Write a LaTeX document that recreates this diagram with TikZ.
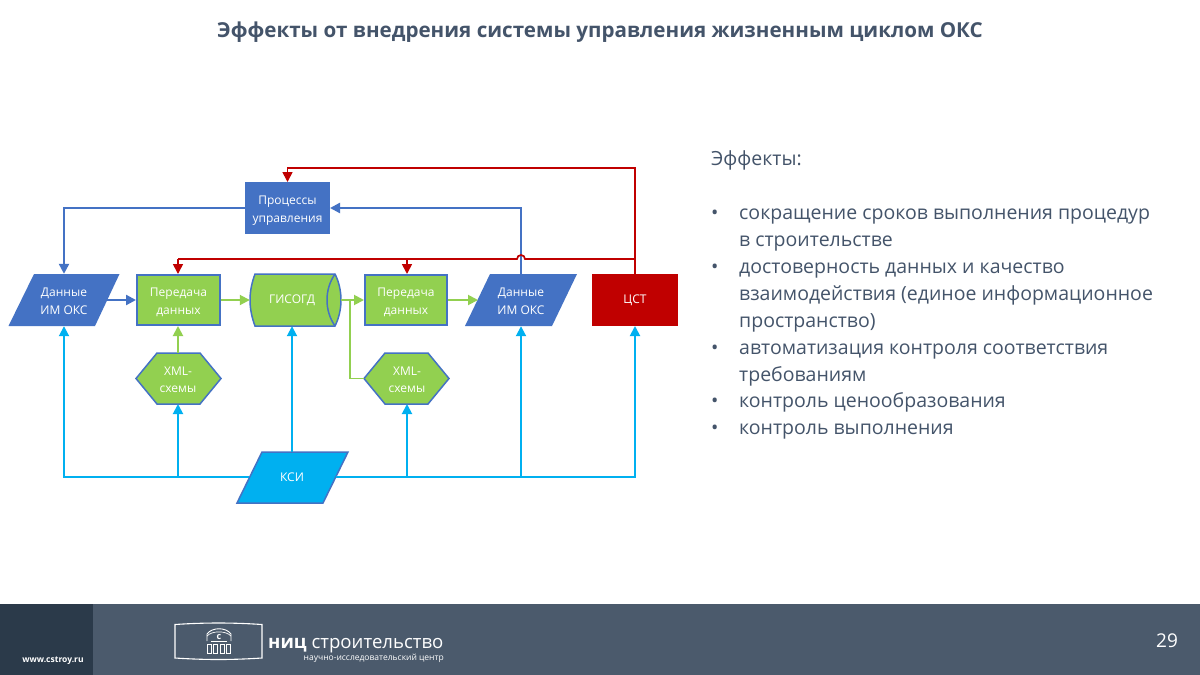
\documentclass[tikz,border=0pt]{standalone}
\usepackage{fontspec}
\setmainfont{Open Sans}
\usetikzlibrary{arrows.meta}
\definecolor{slate}{HTML}{44546A}
\definecolor{foot}{HTML}{4B5A6C}
\definecolor{footdark}{HTML}{2B3A4A}
\definecolor{bl}{HTML}{4472C4}
\definecolor{gr}{HTML}{92D050}
\definecolor{sky}{HTML}{00B0F0}
\definecolor{rd}{HTML}{C00000}
\newcommand{\twol}[2]{\raisebox{-5.2pt}[0pt][0pt]{\begin{tabular}{@{}c@{}}#1\\#2\end{tabular}}}
\tikzset{
  boxn/.style={minimum width=83pt,minimum height=50pt,inner sep=0pt,draw=bl,line width=2pt,text=white,align=center,font=\fontsize{12}{17.5}\selectfont},
  holder/.style={minimum width=#1,minimum height=52pt,inner sep=0pt,text=white,align=center,font=\fontsize{12}{17.5}\selectfont},
  link/.style={line width=1.9pt,-{Triangle[length=10pt,width=10pt]}},
  plain/.style={line width=1.9pt},
  bluel/.style={draw=bl,line width=2.3pt},
  greenl/.style={draw=gr},
  skyl/.style={draw=sky},
  redl/.style={draw=rd,line width=1.7pt},
  para/.style={inner sep=0pt,anchor=base west,text=slate,font=\fontsize{19.5}{23}\selectfont},
  flow/.style={draw=bl,line width=1.5pt,line join=miter},
}
\begin{document}
\begin{tikzpicture}[x=1pt,y=-1pt]
\useasboundingbox (0,0) rectangle (1200,675);
\fill[white] (0,0) rectangle (1200,675);
\node[inner sep=0pt,text=slate,font=\fontsize{20.6}{25}\selectfont\bfseries] (title) at (600,32) {Эффекты от внедрения системы управления жизненным циклом ОКС};

% shapes drawn under their labels
\fill[bl] (34,274) -- (119.5,274) -- (95,326) -- (8.5,326) -- cycle;
\fill[bl] (490,274) -- (577,274) -- (552,326) -- (465,326) -- cycle;
\filldraw[flow,fill=sky] (262,452) -- (348,452) -- (323,503) -- (237,503) -- cycle;
\filldraw[flow,fill=gr] (157,353) -- (200,353) -- (221,378.5) -- (200,404) -- (157,404) -- (136,378.5) -- cycle;
\filldraw[flow,fill=gr] (385,353) -- (428,353) -- (449,378.5) -- (428,404) -- (385,404) -- (364,378.5) -- cycle;
\filldraw[flow,fill=gr] (255,274) -- (335,274) .. controls (339,282) and (341,291) .. (341,300) .. controls (341,309) and (339,318) .. (335,326) -- (255,326) .. controls (252,318) and (250,309) .. (250,300) .. controls (250,291) and (252,282) .. (255,274) -- cycle;
\draw[flow] (335,274) .. controls (329.5,282) and (327,291) .. (327,300) .. controls (327,309) and (329.5,318) .. (335,326);

% nodes
\node[boxn,fill=bl,line width=0pt,draw=none,minimum width=85pt,minimum height=52pt] (proc) at (287.5,208) {\twol{Процессы}{управления}};
\node[holder=70pt] (data1) at (64,300) {\twol{Данные}{ИМ ОКС}};
\node[boxn,fill=gr] (tr1) at (178.5,300) {\twol{Передача}{данных}};
\node[holder=91pt] (gis) at (295.5,300) {\hspace*{-7pt}ГИСОГД};
\node[boxn,fill=gr,minimum width=82pt] (tr2) at (406,300) {\twol{Передача}{данных}};
\node[holder=62pt] (data2) at (521,300) {\twol{Данные}{ИМ ОКС}};
\node[boxn,fill=rd,draw=none,line width=0pt,minimum width=86pt,minimum height=52pt] (cst) at (635,300) {ЦСТ};
\node[holder=85pt] (xml1) at (178,378.5) {\twol{XML-}{схемы}};
\node[holder=85pt] (xml2) at (407,378.5) {\twol{XML-}{схемы}};
\node[holder=60pt] (ksi) at (292,477) {КСИ};

\coordinate (rtop) at (cst.north |- 0,168);
\coordinate (rtopl) at (proc.north |- 0,168);
\coordinate (rmid) at (cst.north |- 0,259);
\coordinate (rleft) at (xml1.north |- 0,259);
\coordinate (rj2) at (xml2.north |- 0,259);
\coordinate (hr) at (525,259);
\coordinate (bup) at (data2.north |- proc.east);
\coordinate (bdn) at (data1.north |- proc.west);
\coordinate (gj) at (350,300);
\coordinate (gb) at (350,378.5);
\coordinate (kl) at (64,477);
\coordinate (kr) at (635,477);
\coordinate (k1) at (178,477);
\coordinate (k2) at (407,477);
\coordinate (k3) at (521,477);
\coordinate (kl0) at (249,477);
\coordinate (kr0) at (336,477);
\coordinate (d1r) at (107,300);
\coordinate (d2l) at (478,300);

% blue
\draw[link,bluel] (data2.north) -- (bup) -- (proc.east);
\draw[link,bluel] (proc.west) -- (bdn) -- (data1.north);
\draw[link,bluel] (d1r) -- (tr1.west);
% red
\draw[plain,redl,line cap=rect] (cst.north) -- (rtop) -- (rtopl);
\draw[link,redl] (rtopl) -- (proc.north);
\draw[plain,redl] (rmid) -- (hr) arc[start angle=0,end angle=180,radius=4pt] -- (rleft);
\draw[link,redl] (rleft) -- (rleft |- tr1.north);
\draw[link,redl] (rj2) -- (rj2 |- tr2.north);
% green
\draw[link,greenl] (tr1.east) -- (gis.west);
\draw[link,greenl] (gis.east) -- (tr2.west);
\draw[plain,greenl] (gj) -- (gb) -- (xml2.west);
\draw[link,greenl] (tr2.east) -- (d2l);
\draw[link,greenl] (xml1.north |- 0,353) -- (xml1.north |- tr1.south);
% sky
\draw[link,skyl] (ksi.north |- 0,452) -- (ksi.north |- gis.south);
\draw[link,skyl] (kl0) -- (kl) -- (data1.south);
\draw[link,skyl] (kr0) -- (kr) -- (cst.south);
\draw[link,skyl] (k1) -- (xml1.south |- 0,404);
\draw[link,skyl] (k2) -- (xml2.south |- 0,404);
\draw[link,skyl] (k3) -- (data2.south);

% right text
\node[para] (e0) at (711,165) {Эффекты:};
\node[para] (b1) at (711,219.5) {•};
\node[para] (t1) at (739,219.5) {сокращение сроков выполнения процедур};
\node[para] (t1b) at (739,246.5) {в строительстве};
\node[para] (b2) at (711,273) {•};
\node[para] (t2) at (739,273) {достоверность данных и качество};
\node[para] (t2b) at (739,300) {взаимодействия (единое информационное};
\node[para] (t2c) at (739,327) {пространство)};
\node[para] (b3) at (711,354) {•};
\node[para] (t3) at (739,354) {автоматизация контроля соответствия};
\node[para] (t3b) at (739,381) {требованиям};
\node[para] (b4) at (711,407.5) {•};
\node[para] (t4) at (739,407.5) {контроль ценообразования};
\node[para] (b5) at (711,434.5) {•};
\node[para] (t5) at (739,434.5) {контроль выполнения};

% footer
\fill[foot] (0,604) rectangle (1200,675);
\fill[footdark] (0,604) rectangle (93,675);
\node[inner sep=0pt,text=white,font=\fontsize{8.5}{10}\selectfont\bfseries] (url) at (53,661) {www.cstroy.ru};
\draw[white,line width=1.1pt] (175,624.5) .. controls (205,622.5) and (232,622.5) .. (262,624.5) -- (262,658) .. controls (232,660) and (205,660) .. (175,658) -- cycle;
\draw[white,line width=.9pt] (207,641) -- (207,634) .. controls (212,627) and (226,627) .. (231,634) -- (231,641);
\draw[white,line width=.7pt] (207,636) .. controls (212,630.5) and (226,630.5) .. (231,636);
\draw[white,line width=.7pt] (211,641) -- (227,641);
\node[inner sep=0pt,text=white,font=\fontsize{9}{10}\selectfont\bfseries] (logoc) at (219,637) {c};
\foreach \x in {207,213,220,226}{\draw[white,line width=.8pt] (\x,644) rectangle ++(4,9);}
\node[inner sep=0pt,anchor=base west,text=white,font=\fontsize{18.6}{20}\selectfont] (brand) at (268,648) {\textbf{ниц} строительство};
\node[inner sep=0pt,anchor=base east,text=white,font=\fontsize{8.5}{10}\selectfont] (sub) at (444,660) {научно-исследовательский центр};
\node[inner sep=0pt,text=white,font=\fontsize{19}{22}\selectfont] (pg) at (1167,641) {29};
\end{tikzpicture}
\end{document}
